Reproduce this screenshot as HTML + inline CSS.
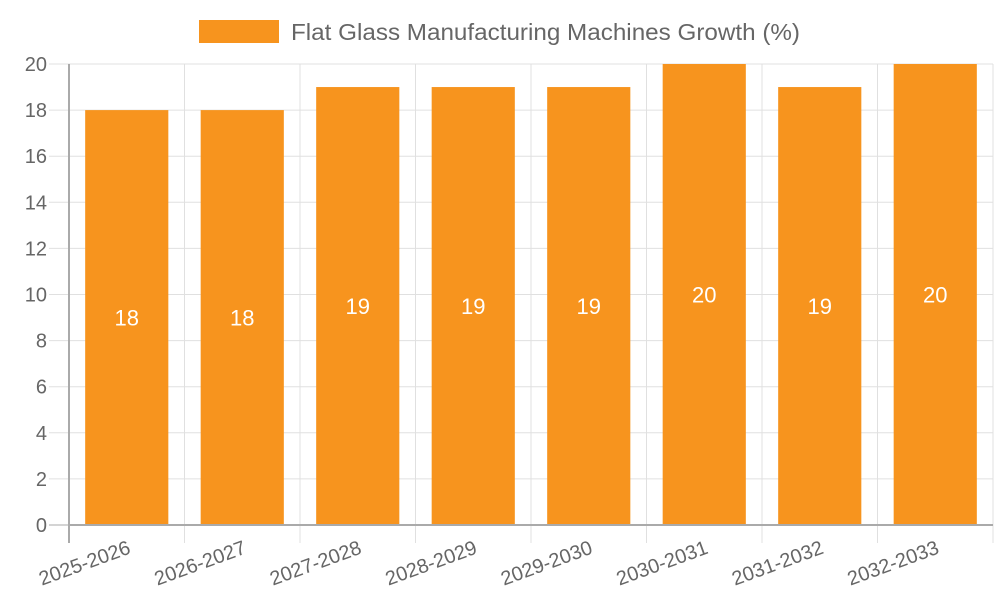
<!DOCTYPE html>
<html><head><meta charset="utf-8"><style>
html,body{margin:0;padding:0;background:#fff;}
svg{display:block;font-family:"Liberation Sans",sans-serif;}
</style></head><body>
<svg id="chart" width="1000" height="600">
  <g id="legend">
    <rect x="199" y="20" width="80" height="23" fill="#F7941E"/>
    <text x="291" y="40" font-size="23" fill="#666" textLength="509" lengthAdjust="spacingAndGlyphs">Flat Glass Manufacturing Machines Growth (%)</text>
  </g>
  <g id="grid"></g>
  <g id="bars"></g>
  <g id="axes"></g>
</svg>
<script>
const categories = ["2025-2026","2026-2027","2027-2028","2028-2029","2029-2030","2030-2031","2031-2032","2032-2033"];
const growthValues = [18,18,19,19,19,20,19,20];
const yTicks = [0,2,4,6,8,10,12,14,16,18,20];

(function(){
const NS = "http://www.w3.org/2000/svg";
const plotLeft = 69, plotRight = 993, plotTop = 64, plotBottom = 525, yMax = 20;
const band = (plotRight - plotLeft) / categories.length;
const xs = i => plotLeft + i * band;
const ys = v => plotBottom - (v / yMax) * (plotBottom - plotTop);
function mk(tag, attrs, parent){const e=document.createElementNS(NS,tag);for(const k in attrs)e.setAttribute(k,attrs[k]);parent.appendChild(e);return e;}
const grid = document.getElementById('grid'), bars = document.getElementById('bars'), axes = document.getElementById('axes');

yTicks.forEach(t => {
  const yy = ys(t);
  if (t > 0) {
    const g = mk('line',{x1:plotLeft,x2:plotRight,y1:yy,y2:yy,stroke:'#e0e0e0','stroke-width':1},grid);
    
    
  }
  const tk = mk('line',{x1:plotLeft-20,x2:plotLeft,y1:yy,y2:yy,stroke:t===0?'#aaa':'#e0e0e0','stroke-width':1},grid);
  
  
  const lb = mk('text',{x:plotLeft-22,y:yy+7,'text-anchor':'end','font-size':20,fill:'#666'},axes);
  lb.textContent = t;
  
  
});
for (let i = 0; i <= categories.length; i++) {
  const xx = xs(i);
  const g = mk('line',{x1:xx,x2:xx,y1:plotTop,y2:plotBottom+18,stroke:i===0?'#aaa':'#e0e0e0','stroke-width':i===0?2:1},grid);
  
  
}
const base = mk('line',{x1:plotLeft,x2:plotRight,y1:plotBottom,y2:plotBottom,stroke:'#aaa','stroke-width':2},axes);



const bw = band * 0.72;
categories.forEach((c, i) => {
  const v = growthValues[i];
  const cx = xs(i) + band / 2;
  const r = mk('rect',{x:cx-bw/2,y:ys(v),width:bw,height:plotBottom-ys(v),fill:'#F7941E'},bars);
  
  
  const vl = mk('text',{x:cx,y:(ys(v)+plotBottom)/2+8,'text-anchor':'middle','font-size':22,fill:'#fff'},bars);
  vl.textContent = v;
  
  
  const tl = mk('text',{x:cx+5,y:553,'text-anchor':'end','font-size':20,fill:'#666',transform:`rotate(-20 ${cx+5} 553)`},axes);
  tl.textContent = c;
  
  
});
})();
</script>
</body></html>
